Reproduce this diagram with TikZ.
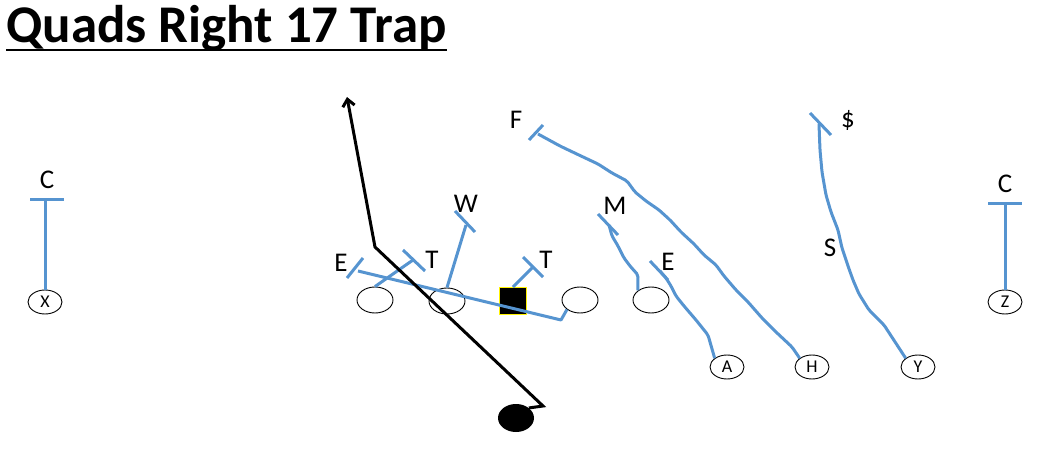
\documentclass[tikz,border=0pt]{standalone}
\usepackage{fontspec}
\setmainfont{Carlito}
\usetikzlibrary{shapes.geometric,arrows.meta}
\definecolor{blockblue}{RGB}{86,148,208}
\tikzset{
  player/.style={ellipse,draw,line width=0.9pt,fill=white,minimum width=34,minimum height=24,inner sep=0pt,font=\fontsize{18}{18}\selectfont},
  lineman/.style={ellipse,draw,line width=0.9pt,fill=white,minimum width=36,minimum height=26,inner sep=0pt},
  snapper/.style={rectangle,fill=black,draw=yellow,line width=0.9pt,minimum size=27,inner sep=0pt},
  defender/.style={font=\fontsize{27}{27}\selectfont,inner sep=0pt},
  block/.style={draw=blockblue,line width=3pt,line join=round},
  route/.style={draw=black,line width=3pt,line join=miter}
}
\begin{document}
\begin{tikzpicture}[x=1pt,y=-1pt]
\useasboundingbox (0,0) rectangle (1050,457);

% title
\node[anchor=west,inner sep=0pt,font=\fontsize{53}{56}\selectfont\bfseries] (title) at (6,28) {Quads Right 17 Trap};
\draw[line width=2.6pt] ([yshift=-8pt]title.base west) -- ([yshift=-8pt]title.base east);

% offense
\node[player] (X) at (45,302) {X};
\node[player] (Z) at (1005,302) {Z};
\node[player] (A) at (727,367) {A};
\node[player] (H) at (812,367) {H};
\node[player] (Y) at (918,367) {Y};
\node[lineman] (LT) at (375,300) {};
\node[lineman] (LG) at (447,301) {};
\node[snapper] (OC) at (513,301) {};
\node[lineman] (RG) at (580,300) {};
\node[lineman] (RT) at (651,300) {};
\node[ellipse,fill=black,minimum width=36,minimum height=28,inner sep=0pt] (ball) at (516,418) {};

% defense
\node[defender] (lc) at (47,180) {C};
\node[defender] (rc) at (1005,184) {C};
\node[defender] (le) at (341,263) {E};
\node[defender] (lt) at (432,260) {T};
\node[defender] (w) at (466,204) {W};
\node[defender] (rt) at (546,260) {T};
\node[defender] (f) at (516,120) {F};
\node[defender] (m) at (615,206) {M};
\node[defender] (re) at (668,262) {E};
\node[defender] (ss) at (848,120) {\$};
\node[defender] (s) at (830,248) {S};

% block bars
\coordinate (lcA) at (30,200);  \coordinate (lcB) at (64,200);  \coordinate (lcM) at (45,200);
\coordinate (rcA) at (988,204); \coordinate (rcB) at (1022,204); \coordinate (rcM) at (1005,204);
\coordinate (leA) at (347,278); \coordinate (leB) at (363,258); \coordinate (leM) at (358,271);
\coordinate (ltA) at (403,250); \coordinate (ltB) at (425,271); \coordinate (ltM) at (413,260);
\coordinate (wA) at (455,211);  \coordinate (wB) at (475,232);  \coordinate (wM) at (466,225);
\coordinate (rtA) at (523,257); \coordinate (rtB) at (543,277); \coordinate (rtM) at (533,267);
\coordinate (fA) at (529,140);  \coordinate (fB) at (543,125);  \coordinate (fM) at (538,134);
\coordinate (mA) at (598,214);  \coordinate (mB) at (618,235);  \coordinate (mM) at (609,225);
\coordinate (reA) at (650,261); \coordinate (reB) at (668,280); \coordinate (reM) at (660,271);
\coordinate (ssA) at (810,113); \coordinate (ssB) at (831,135); \coordinate (ssM) at (819,124);
\foreach \d in {lc,rc,le,lt,w,rt,f,m,re,ss}
  \draw[block] (\d A) -- (\d B);

% blocks
\draw[block] (X.north) -- (lcM);
\draw[block] (Z.north) -- (rcM);
\draw[block] (LT.north) -- (ltM);
\draw[block] (LG.north) -- (wM);
\draw[block] (OC.north) -- (rtM);
\draw[block] (RG.south west) -- (561,320) -- (leM);
\draw[block,rounded corners=2pt] (RT.north west) -- (638,275) -- (630,266) -- (624,258) -- (618,246) -- (612,236) -- (mM);
\draw[block,rounded corners=2pt] (A.north west) -- (708,335) -- (696,320) -- (684,306) -- (676,296) -- (671,286) -- (666,278) -- (reM);
\draw[block,rounded corners=2pt] (H.north west) -- (792,347) -- (776,332) -- (762,318) -- (748,302) -- (736,290) -- (724,276) -- (716,265) -- (704,255) -- (694,244) -- (681,232) -- (670,220) -- (659,210) -- (646,201) -- (635,192) -- (627,181) -- (612,173) -- (598,164) -- (581,156) -- (560,146) -- (fM);
\draw[block,rounded corners=2pt] (Y.north west) -- (899,348) -- (884,325) -- (869,310) -- (859,294) -- (853,280) -- (848,266) -- (842,248) -- (838,230) -- (831,212) -- (826,195) -- (822,172) -- (820,150) -- (ssM);

% ball carrier
\draw[route,-{Straight Barb[length=7pt,width=12pt]}] (ball.north east) -- (543,406) -- (375,247) -- (347,97);
\end{tikzpicture}
\end{document}
